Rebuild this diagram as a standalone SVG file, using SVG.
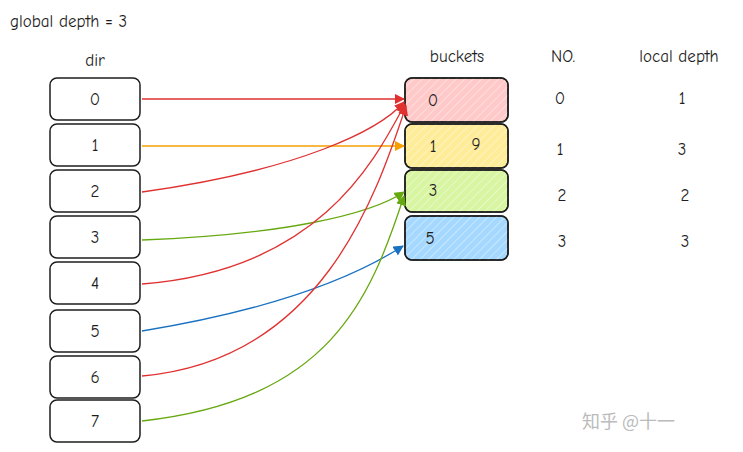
<svg xmlns="http://www.w3.org/2000/svg" width="743" height="452" viewBox="0 0 743 452">
<defs>
<style>
text{font-family:"Comic Neue","Liberation Sans",sans-serif;font-size:17px;fill:#1e1e1e}
.c{text-anchor:middle}
.d rect{fill:#fff;stroke:#1e1e1e;stroke-width:1.5}
.b rect{stroke:#1e1e1e;stroke-width:1.5}
path.a{fill:none;stroke-width:1.3}
</style>
<marker id="mr" viewBox="0 0 10 10" refX="9" refY="5" markerWidth="8" markerHeight="8" orient="auto"><path d="M0,0L10,5L0,10z" fill="#e03131"/></marker>
<marker id="my" viewBox="0 0 10 10" refX="9" refY="5" markerWidth="8" markerHeight="8" orient="auto"><path d="M0,0L10,5L0,10z" fill="#f59f00"/></marker>
<marker id="mg" viewBox="0 0 10 10" refX="9" refY="5" markerWidth="8" markerHeight="8" orient="auto"><path d="M0,0L10,5L0,10z" fill="#66a80f"/></marker>
<marker id="mb" viewBox="0 0 10 10" refX="9" refY="5" markerWidth="8" markerHeight="8" orient="auto"><path d="M0,0L10,5L0,10z" fill="#1971c2"/></marker>
<pattern id="h" width="6" height="6" patternUnits="userSpaceOnUse" patternTransform="rotate(45)"><rect width="6" height="6" fill="none"/><line x1="0" y1="0" x2="0" y2="6" stroke="#fff" stroke-opacity="0.5" stroke-width="1.5"/></pattern>
</defs>
<text x="10" y="27">global depth = 3</text>
<text x="95" y="66" class="c">dir</text>
<text x="457" y="62" class="c">buckets</text>
<text x="563" y="62" class="c">NO.</text>
<text x="679" y="62" class="c">local depth</text>
<g id="dir" class="d">
<g id="d0"><rect x="50" y="78" width="90" height="42" rx="7"/><text x="95" y="105" class="c">0</text></g>
<g id="d1"><rect x="50" y="124" width="90" height="42" rx="7"/><text x="95" y="151" class="c">1</text></g>
<g id="d2"><rect x="50" y="170" width="90" height="42" rx="7"/><text x="95" y="197" class="c">2</text></g>
<g id="d3"><rect x="50" y="216" width="90" height="42" rx="7"/><text x="95" y="243" class="c">3</text></g>
<g id="d4"><rect x="50" y="262" width="90" height="42" rx="7"/><text x="95" y="289" class="c">4</text></g>
<g id="d5"><rect x="50" y="310" width="90" height="42" rx="7"/><text x="95" y="337" class="c">5</text></g>
<g id="d6"><rect x="50" y="356" width="90" height="42" rx="7"/><text x="95" y="383" class="c">6</text></g>
<g id="d7"><rect x="50" y="400" width="90" height="42" rx="7"/><text x="95" y="427" class="c">7</text></g>
</g>
<g id="buckets" class="b">
<g id="b0"><rect x="405" y="78" width="103" height="44" rx="7" fill="#ffc9c9"/><rect x="405" y="78" width="103" height="44" rx="7" fill="url(#h)" stroke="none"/><text x="433" y="106" class="c">0</text></g>
<g id="b1"><rect x="405" y="124" width="103" height="44" rx="7" fill="#ffec99"/><rect x="405" y="124" width="103" height="44" rx="7" fill="url(#h)" stroke="none"/><text x="433" y="152" class="c">1</text><text x="476" y="150" class="c">9</text></g>
<g id="b2"><rect x="405" y="170" width="103" height="42" rx="7" fill="#d8f5a2"/><rect x="405" y="170" width="103" height="42" rx="7" fill="url(#h)" stroke="none"/><text x="433" y="196" class="c">3</text></g>
<g id="b3"><rect x="405" y="216" width="103" height="44" rx="7" fill="#a5d8ff"/><rect x="405" y="216" width="103" height="44" rx="7" fill="url(#h)" stroke="none"/><text x="430" y="244" class="c">5</text></g>
</g>
<g id="cols">
<text x="560" y="104" class="c">0</text><text x="682" y="104" class="c">1</text>
<text x="560" y="155" class="c">1</text><text x="682" y="155" class="c">3</text>
<text x="562" y="201" class="c">2</text><text x="685" y="201" class="c">2</text>
<text x="562" y="247" class="c">3</text><text x="685" y="247" class="c">3</text>
</g>
<g id="connectors">
<path class="a" stroke="#e03131" d="M142,99 L404,99" marker-end="url(#mr)"/>
<path class="a" stroke="#f59f00" d="M142,146 L404,146" marker-end="url(#my)"/>
<path class="a" stroke="#e03131" d="M142,192 C300,170 380,130 404,102" marker-end="url(#mr)"/>
<path class="a" stroke="#66a80f" d="M142,240 C280,235 370,215 404,192" marker-end="url(#mg)"/>
<path class="a" stroke="#e03131" d="M142,284 C320,270 375,160 405,104" marker-end="url(#mr)"/>
<path class="a" stroke="#1971c2" d="M142,331 C270,310 350,280 403,246" marker-end="url(#mb)"/>
<path class="a" stroke="#e03131" d="M142,376 C320,360 375,200 406,106" marker-end="url(#mr)"/>
<path class="a" stroke="#66a80f" d="M142,421 C330,400 370,300 404,196" marker-end="url(#mg)"/>
</g>
<text x="582" y="428" style="fill:#bbb;font-family:'Noto Sans CJK SC',sans-serif;font-size:18px">知乎 @十一</text>
</svg>
